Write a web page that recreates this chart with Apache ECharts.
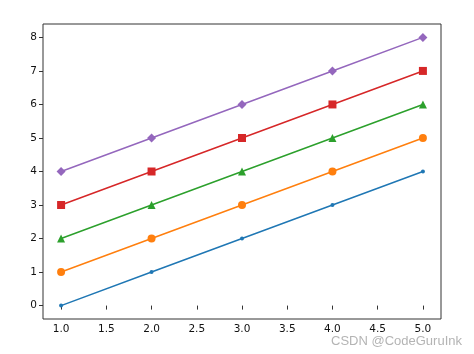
<!DOCTYPE html>
<html>
<head>
<meta charset="utf-8">
<script src="https://cdn.jsdelivr.net/npm/echarts@6/dist/echarts.min.js"></script>
<style>
html,body{margin:0;padding:0;background:#fff;}
#main{width:474px;height:354px;}
</style>
</head>
<body>
<div id="main"></div>
<script>
// x 轴数据
var xData = [1, 2, 3, 4, 5];
// 五条线的数据
var line0 = [0, 1, 2, 3, 4];
var line1 = [1, 2, 3, 4, 5];
var line2 = [2, 3, 4, 5, 6];
var line3 = [3, 4, 5, 6, 7];
var line4 = [4, 5, 6, 7, 8];
// 刻度
var xTicks = [1, 1.5, 2, 2.5, 3, 3.5, 4, 4.5, 5];
var yTicks = [0, 1, 2, 3, 4, 5, 6, 7, 8];

var colors = ['#1f77b4', '#ff7f0e', '#2ca02c', '#d62728', '#9467bd'];
var symbols = ['circle', 'circle', 'triangle', 'rect', 'diamond'];
var sizes = [4, 8, 8, 8, 9];
var lines = [line0, line1, line2, line3, line4];

function pairs(ys){
    var d = [];
    for(var i=0;i<xData.length;i++){
        d.push([xData[i], ys[i]]);
    }
    return d;
}

var sers = [];
for(var i=0;i<lines.length;i++){
    sers.push({
        type: 'line',
        data: pairs(lines[i]),
        symbol: symbols[i],
        symbolSize: sizes[i],
        showSymbol: true,
        animation: false,
        lineStyle: {color: colors[i], width: 1.5},
        itemStyle: {color: colors[i], borderWidth: 0}
    });
}

var labelStyle = {color: '#111', fontFamily: 'DejaVu Sans', fontSize: 10.5};

var myChart = echarts.init(document.getElementById('main'));
var option = {
    animation: false,
    grid: {
        left: 43, right: 33, top: 24, bottom: 35,
        show: true, borderColor: '#333', borderWidth: 1, backgroundColor: '#fff'
    },
    xAxis: {
        type: 'value',
        min: 0.8, max: 5.2,
        splitLine: {show: false},
        axisLine: {show: false},
        axisTick: {show: true, inside: false, length: 4, lineStyle: {color: '#333'}, customValues: xTicks},
        axisLabel: Object.assign({margin: 5, customValues: xTicks, formatter: function(v){ return v.toFixed(1); }}, labelStyle)
    },
    yAxis: {
        type: 'value',
        min: -0.4, max: 8.4,
        splitLine: {show: false},
        axisLine: {show: false},
        axisTick: {show: true, inside: false, length: 4, lineStyle: {color: '#333'}, customValues: yTicks},
        axisLabel: Object.assign({margin: 6, customValues: yTicks}, labelStyle)
    },
    graphic: [{
        type: 'text',
        right: 12, bottom: 6,
        style: {
            text: 'CSDN @CodeGuruInk',
            fill: '#b4b4b4',
            font: '13px "Liberation Sans"'
        }
    }],
    series: sers
};
myChart.setOption(option);
</script>
</body>
</html>
